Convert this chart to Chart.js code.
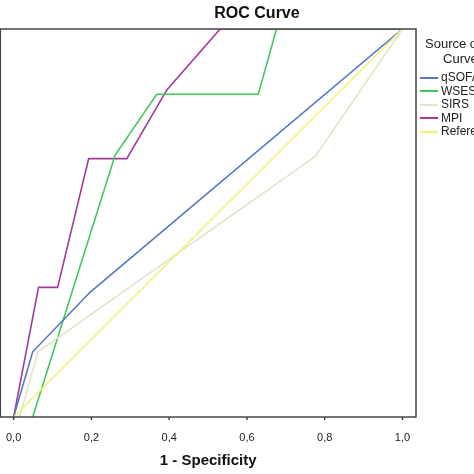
<!DOCTYPE html>
<html><head><meta charset="utf-8">
<script src="https://cdn.jsdelivr.net/npm/chart.js@4"></script>
<style>
html,body{margin:0;padding:0;overflow:hidden;width:474px;height:474px;background:#fff;font-family:Arial,"Liberation Sans",sans-serif}
#wrap{position:absolute;left:0;top:0;width:474px;height:474px}
#title{position:absolute;top:4px;left:0;width:514px;text-align:center;font-weight:bold;font-size:16px;color:#111}
#legend{position:absolute;left:420px;top:36px;font-size:12px;color:#222;white-space:nowrap}
#legend .hd{font-size:13px;line-height:15px;margin-bottom:5px;padding-left:5px}
#legend .it{height:13.5px;line-height:13.5px;position:relative}
#legend .sw{display:inline-block;width:18px;height:2px;vertical-align:middle;margin-right:3px}
</style></head><body>
<div id="wrap"><canvas id="c" width="474" height="474"></canvas></div>
<div id="title">ROC Curve</div>
<div id="legend">
<div class="hd">Source of the<br>&nbsp;&nbsp;&nbsp;&nbsp;&nbsp;Curve</div>
</div>
<script>
const seriesNames = ["qSOFA","WSES_SSS","SIRS","MPI","Reference Line"];
const seriesColors = ["#5577c8","#44c85c","#e4e4cc","#a23a9c","#f2f27a"];
const qsofaX = [0,0.049,0.197,1];
const qsofaY = [0,0.168,0.322,1];
const wsesX = [0.049,0.261,0.368,0.629,0.676,1];
const wsesY = [0,0.675,0.832,0.832,1,1];
const sirsX = [0.015,0.0625,0.775,1];
const sirsY = [0,0.168,0.671,1];
const mpiX = [0,0.064,0.113,0.193,0.291,0.394,0.531,1];
const mpiY = [0,0.334,0.334,0.666,0.666,0.843,1,1];
const refX = [0,1];
const refY = [0,1];
const xTicks = [0,0.2,0.4,0.6,0.8,1.0];

const xs=[qsofaX,wsesX,sirsX,mpiX,refX], ys=[qsofaY,wsesY,sirsY,mpiY,refY];
const order=[4,2,0,1,3];
const datasets=order.map(i=>({label:seriesNames[i],data:xs[i].map((x,k)=>({x,y:ys[i][k]})),borderColor:seriesColors[i],borderWidth:1.6,pointRadius:0,tension:0,fill:false}));

const lg=document.getElementById('legend');
seriesNames.forEach((n,i)=>{const d=document.createElement('div');d.className='it';d.innerHTML='<span class="sw" style="background:'+seriesColors[i]+'"></span>'+n;lg.appendChild(d);});

const box={id:'box',afterDraw(ch){const a=ch.chartArea,c=ch.ctx;c.save();c.strokeStyle='#444';c.lineWidth=1.5;c.strokeRect(a.left,a.top,a.right-a.left,a.bottom-a.top);
const s=ch.scales.x;c.beginPath();xTicks.forEach(t=>{const p=s.getPixelForValue(t);c.moveTo(p,a.bottom);c.lineTo(p,a.bottom+3);});c.stroke();c.restore();}};

new Chart(document.getElementById('c'),{type:'line',data:{datasets},
options:{responsive:false,animation:false,devicePixelRatio:1,
layout:{padding:{top:29,right:58,left:0,bottom:0}},
plugins:{legend:{display:false},tooltip:{enabled:false}},
scales:{
x:{type:'linear',min:-0.0343,max:1.0347,grid:{display:false},border:{display:false},
afterBuildTicks(s){s.ticks=xTicks.map(v=>({value:v}));},
afterFit(s){s.height=57;},
ticks:{color:'#222',font:{size:11,family:'Arial'},padding:6,autoSkip:false,maxRotation:0,callback:v=>v.toFixed(1).replace('.',',')},
title:{display:true,text:'1 - Specificity',color:'#111',font:{size:15,weight:'bold',family:'Arial'},padding:{top:10}}},
y:{type:'linear',min:0,max:1,display:false}
}},plugins:[box]});
</script>
</body></html>
